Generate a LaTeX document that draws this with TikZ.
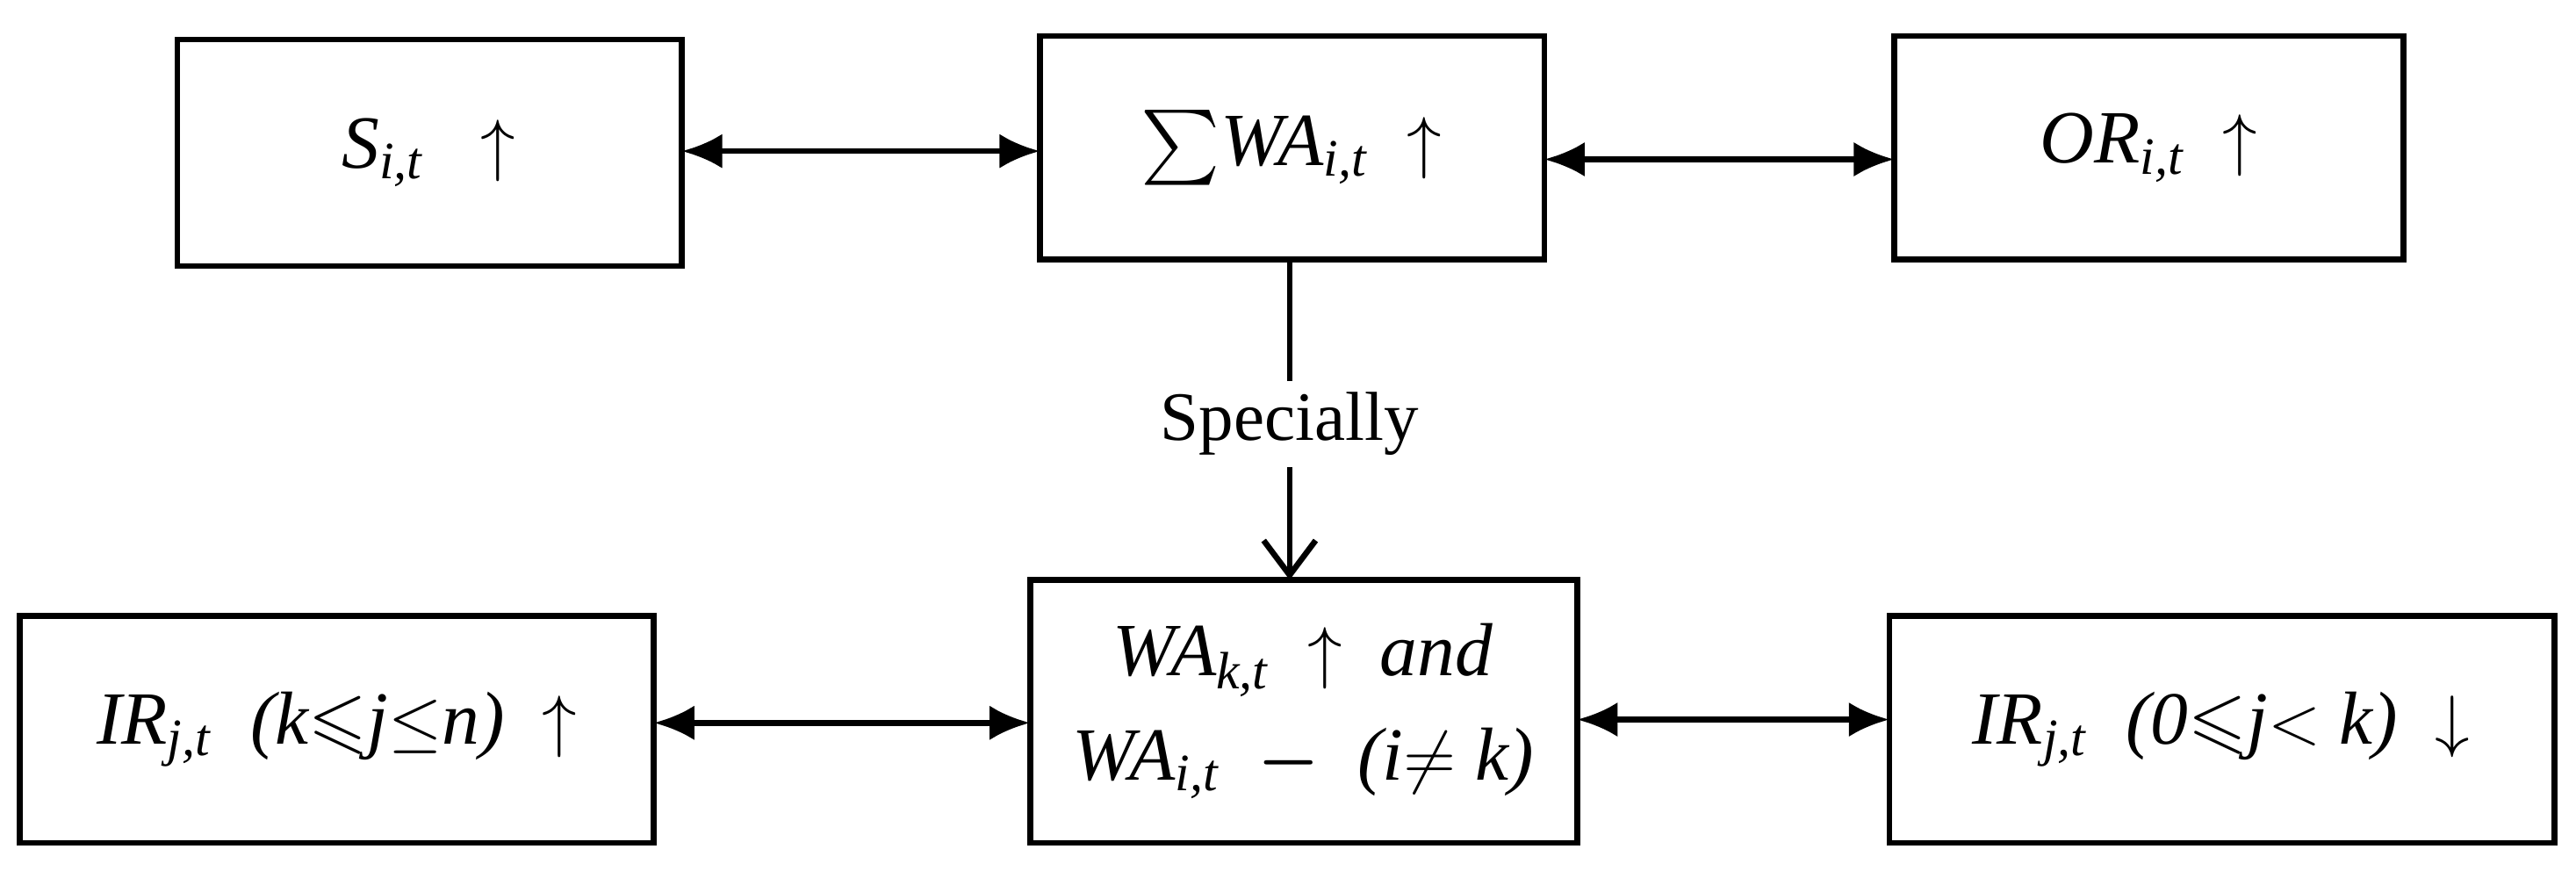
\documentclass[tikz,border=0pt]{standalone}
\usetikzlibrary{arrows.meta}
\usepackage{fontspec}
\setmainfont{Liberation Serif}
\usepackage{amsmath,amssymb}
\begin{document}
\begin{tikzpicture}[x=0.01cm,y=-0.01cm,
 box/.style={draw,line width=1pt,inner sep=0pt},
 arr/.style={line width=1pt,{Latex[length=7pt,width=6pt]}-{Latex[length=7pt,width=6pt]}},
 every node/.style={font=\fontsize{13}{16}\selectfont\itshape}]
\useasboundingbox (0,0) rectangle (1568,534);
\draw[box] (108,24) rectangle (415,162);
\node (s) at (261,93) {S\textsubscript{\textit{i,t}}\ \ \ \upshape$\uparrow$};
\draw[box] (633,22) rectangle (940,158);
\node (w) at (786,90) {$\textstyle\sum$WA\textsubscript{\textit{i,t}}\ \ \upshape$\uparrow$};
\draw[box] (1153,22) rectangle (1463,158);
\node (o) at (1308,90) {OR\textsubscript{\textit{i,t}}\ \ \upshape$\uparrow$};
\draw[box] (12,375) rectangle (398,513);
\node (l) at (205,444) {IR\textsubscript{\textit{j,t}}\ \ (k$\leqslant$j$\leq$n)\ \ \upshape$\uparrow$};
\draw[box] (627,353) rectangle (960,513);
\node[align=center] (m) at (793,433) {WA\textsubscript{\textit{k,t}}\ \ \upshape$\uparrow$\itshape\ \ and\\[2pt]WA\textsubscript{\textit{i,t}}\ \ \upshape$\boldsymbol{-}$\itshape\ \ (i$\neq$ k)};
\draw[box] (1150,375) rectangle (1555,513);
\node (r) at (1352,444) {IR\textsubscript{\textit{j,t}}\ \ (0$\leqslant$j$<$ k)\ \ \upshape$\downarrow$};
\coordinate (a1) at (415,92); \coordinate (a2) at (633,92);
\coordinate (b1) at (940,97); \coordinate (b2) at (1153,97);
\coordinate (c1) at (398,440); \coordinate (c2) at (627,440);
\coordinate (d1) at (960,438); \coordinate (d2) at (1150,438);
\draw[arr] (a1) -- (a2);
\draw[arr] (b1) -- (b2);
\draw[arr] (c1) -- (c2);
\draw[arr] (d1) -- (d2);
\coordinate (v1) at (785,158); \coordinate (v2) at (785,353);
\draw[line width=1pt,-{Straight Barb[length=6pt,width=9pt]}] (v1) -- (v2);
\node[fill=white,font=\fontsize{12}{14}\selectfont,inner sep=2pt] at (785,258) {Specially};
\end{tikzpicture}
\end{document}
